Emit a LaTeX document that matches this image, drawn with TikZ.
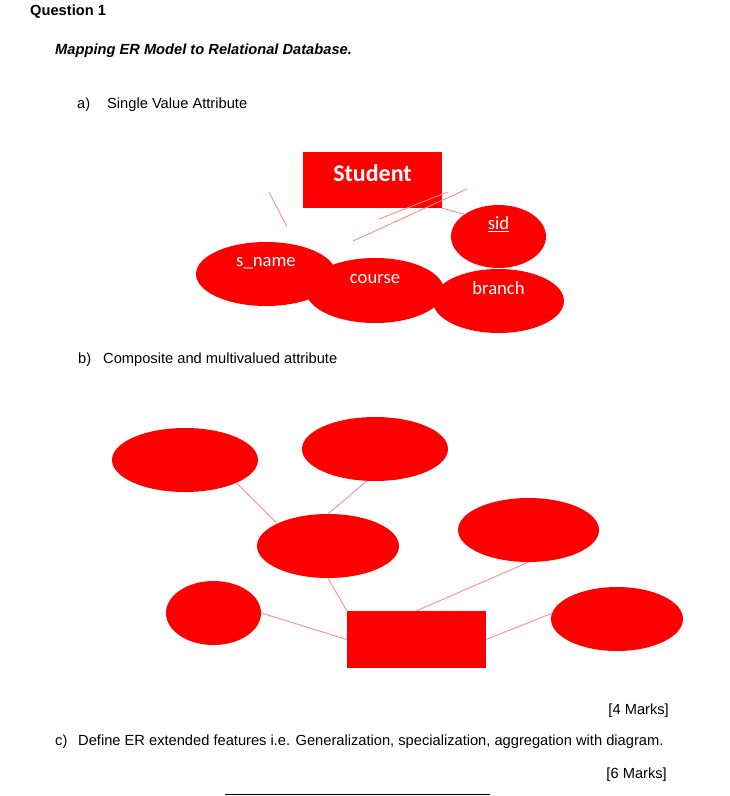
\documentclass[tikz,border=0pt]{standalone}
\usepackage{fontspec}
\setmainfont{Liberation Sans}
\newfontfamily\calibri{Carlito}
\usetikzlibrary{shapes.geometric}
\definecolor{erred}{RGB}{255,0,0}
\definecolor{linkred}{RGB}{255,140,140}
\tikzset{
  entity/.style={rectangle, fill=erred, inner sep=0pt},
  attrib/.style={ellipse, fill=erred, inner sep=0pt},
  attrtext/.style={text=white, inner sep=0pt, font=\calibri\fontsize{18.67}{22}\selectfont},
  enttext/.style={text=white, inner sep=0pt, font=\calibri\bfseries\fontsize{24}{28}\selectfont},
  txt/.style={anchor=base west, inner sep=0pt, font=\fontsize{14.67}{17}\selectfont},
  marks/.style={txt, anchor=base east},
  link/.style={draw=linkred, line width=0.9pt}
}
\begin{document}
\begin{tikzpicture}[x=1pt, y=-1pt]
  \useasboundingbox (0,0) rectangle (729,796);
  % heading
  \node[txt, font=\bfseries\fontsize{14.67}{17}\selectfont] (q1) at (30,15) {Question 1};
  \node[txt, font=\bfseries\itshape\fontsize{14.67}{17}\selectfont] (title) at (55,54.5) {Mapping ER Model to Relational Database.};
  \node[txt] (qa) at (77,108) {a)};
  \node[txt] (qatext) at (107,108) {Single Value Attribute};
  % a) single value attribute
  \path
    (266,274) node[attrib, minimum width=140pt, minimum height=64pt,
      label={[attrtext, yshift=11pt]center:s\_name}] (sname) {}
    (375,290.5) node[attrib, minimum width=138pt, minimum height=65pt,
      label={[attrtext, yshift=11pt]center:course}] (course) {}
    (498.5,301) node[attrib, minimum width=131pt, minimum height=64pt,
      label={[attrtext, yshift=13pt]center:branch}] (branch) {}
    (498.5,236.5) node[attrib, minimum width=95pt, minimum height=63pt,
      label={[attrtext, yshift=12.5pt]center:\underline{sid}}] (sid) {}
    (372.5,180) node[entity, minimum width=139pt, minimum height=56pt,
      label={[enttext, yshift=7.3pt]center:Student}] (student) {};
  \coordinate (s1) at (269,192);
  \coordinate (s2) at (287,227);
  \coordinate (s3) at (353,241);
  \coordinate (s4) at (467,189);
  \coordinate (s5) at (379,219);
  \coordinate (s6) at (448,192);
  \begin{scope}[link]
    \draw (s1) to (s2);
    \draw (s3) to (s4);
    \draw (s5) to (s6);
    \draw (student.south east) to (sid.147);
  \end{scope}
  \node[txt] (qb) at (78,363) {b)};
  \node[txt] (qbtext) at (103,363) {Composite and multivalued attribute};
  % b) composite and multivalued attribute
  \path
    (185,460) node[attrib, minimum width=146pt, minimum height=64pt] (e1) {}
    (375,449) node[attrib, minimum width=146pt, minimum height=64pt] (e2) {}
    (328,546) node[attrib, minimum width=142pt, minimum height=64pt] (e3) {}
    (528.5,530) node[attrib, minimum width=141pt, minimum height=64pt] (e4) {}
    (213.5,613) node[attrib, minimum width=95pt, minimum height=64pt] (e5) {}
    (617,619) node[attrib, minimum width=132pt, minimum height=64pt] (e6) {}
    (416.5,639.5) node[entity, minimum width=139pt, minimum height=57pt] (r) {};
  \begin{scope}[link]
    \draw (e1.-24) to (e3.156);
    \draw (e2.-104) to (e3.north);
    \draw (e3.south) to (r.north west);
    \draw (e4.south) to (r.north);
    \draw (e5.east) to (r.west);
    \draw (r.east) to (e6.175);
  \end{scope}
  % marks and part c
  \node[marks] (m4) at (669,714) {[4 Marks]};
  \node[txt] (qc) at (55,745) {c)};
  \node[txt] (qctext) at (78,745) {Define ER extended features i.e. Generalization, specialization, aggregation with diagram.};
  \node[marks] (m6) at (667,778) {[6 Marks]};
  \draw[line width=0.8pt] (225,794) -- (490,794);
\end{tikzpicture}
\end{document}
